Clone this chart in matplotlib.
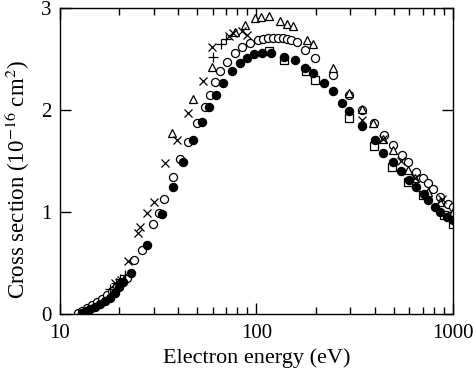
import matplotlib.pyplot as plt
import numpy as np

plt.rcParams['font.family'] = ['Liberation Serif', 'DejaVu Serif']
plt.rcParams['mathtext.fontset'] = 'stix'

# filled circles
e_fill = [12.9, 13.5, 14.2, 15.1, 16.0, 17.0, 17.9, 19.0, 20.0, 21.0, 22.9, 27.7, 33, 37.8,
          42.4, 47.3, 52.6, 57.5, 62.2, 67.7, 74.8, 82.4, 89, 97, 107, 118, 138, 157, 177,
          195, 220, 245, 271, 297, 344, 399, 443, 497, 543, 599, 647, 712, 749, 810, 859,
          929, 995]
s_fill = [0.01, 0.03, 0.05, 0.07, 0.10, 0.13, 0.16, 0.21, 0.26, 0.31, 0.40, 0.68, 0.98, 1.25,
          1.49, 1.71, 1.88, 2.03, 2.15, 2.26, 2.38, 2.46, 2.51, 2.55, 2.56, 2.56, 2.52, 2.49,
          2.41, 2.36, 2.26, 2.19, 2.07, 1.99, 1.84, 1.71, 1.58, 1.49, 1.40, 1.31, 1.25, 1.18,
          1.12, 1.05, 1.00, 0.95, 0.92]

# open circles
e_open = [12.3, 13.0, 13.8, 14.6, 15.5, 16.4, 17.4, 18.4, 19.5, 20.6, 21.8, 23.8, 26.1, 29.9,
          31.8, 33.9, 37.8, 41, 45, 50, 54.7, 58, 61.5, 65.2, 70.5, 77.7, 84, 92.8, 102, 108,
          115, 122, 129, 136, 143, 150, 160, 177, 199, 245, 297, 343, 396, 446, 497, 548, 593,
          646, 706, 749, 794, 859, 946, 995]
s_open = [0.01, 0.03, 0.06, 0.09, 0.12, 0.15, 0.19, 0.23, 0.27, 0.31, 0.35, 0.53, 0.63, 0.88,
          0.99, 1.13, 1.34, 1.52, 1.69, 1.87, 2.03, 2.15, 2.27, 2.38, 2.47, 2.56, 2.62, 2.66,
          2.69, 2.70, 2.71, 2.71, 2.71, 2.71, 2.70, 2.69, 2.67, 2.59, 2.51, 2.34, 2.15, 2.00,
          1.87, 1.75, 1.66, 1.56, 1.49, 1.39, 1.33, 1.28, 1.23, 1.15, 1.08, 1.05]

# triangles
e_tri = [37, 47.7, 59.2, 77.7, 87.3, 98, 106, 116, 132, 143, 154, 180, 195, 245, 297, 343,
         393, 442, 497, 593, 641, 750, 860, 1000]
s_tri = [1.77, 2.11, 2.42, 2.76, 2.83, 2.90, 2.91, 2.92, 2.87, 2.84, 2.82, 2.69, 2.65, 2.41,
         2.17, 2.01, 1.87, 1.72, 1.61, 1.41, 1.33, 1.20, 1.10, 1.00]

# crosses
e_x = [19.0, 20.5, 22.3, 25, 25.5, 27.8, 30.1, 34.2, 39.5, 45, 53.7, 59.2, 72.8, 76.3, 84,
       89, 345, 442, 545, 640, 875]
s_x = [0.30, 0.33, 0.52, 0.79, 0.85, 0.99, 1.10, 1.48, 1.71, 1.97, 2.28, 2.62, 2.73, 2.75,
       2.77, 2.74, 1.90, 1.72, 1.50, 1.33, 1.13]

# pluses
e_plus = [18.0, 19.2, 20.3, 21.4, 60, 66, 70]
s_plus = [0.25, 0.30, 0.34, 0.38, 2.52, 2.65, 2.70]

# squares
e_sq = [116, 138, 179, 199, 297, 396, 487, 593, 706, 899, 995]
s_sq = [2.58, 2.49, 2.38, 2.29, 1.92, 1.65, 1.44, 1.29, 1.17, 0.97, 0.88]

fig = plt.figure(figsize=(4.74, 3.68), dpi=100)
ax = fig.add_axes([0.1266, 0.1467, 0.829, 0.8316])

ax.plot(e_open, s_open, 'o', ms=5.8, mfc='white', mec='black', mew=0.9, ls='none')
ax.plot(e_tri, s_tri, '^', ms=5.8, mfc='white', mec='black', mew=0.9, ls='none')
ax.plot(e_sq, s_sq, 's', ms=5.8, mfc='white', mec='black', mew=0.9, ls='none')
ax.plot(e_x, s_x, 'x', ms=6, mec='black', mew=0.9, ls='none')
ax.plot(e_plus, s_plus, '+', ms=7, mec='black', mew=0.9, ls='none')
ax.plot(e_fill, s_fill, 'o', ms=5.8, mfc='black', mec='black', ls='none')

ax.set_xscale('log')
ax.set_xlim(10, 1000)
ax.set_ylim(0, 3)
ax.set_yticks([0, 1, 2, 3])
ax.set_xticks([10, 100, 1000])
ax.set_xticklabels(['10', '100', '1000'])
ax.tick_params(which='major', direction='in', length=8, width=1, top=True, right=True,
               labelsize=15)
ax.tick_params(axis='x', which='major', pad=7)
ax.tick_params(axis='y', which='major', pad=6)
ax.tick_params(which='minor', direction='in', length=5, width=1, top=True, right=True)
ax.tick_params(axis='y', which='minor', left=False, right=False)
for s in ax.spines.values():
    s.set_linewidth(1)

ax.set_xlabel('Electron energy (eV)', fontsize=16, labelpad=4)
ax.set_ylabel('Cross section (10$^{-16}$ cm$^{2}$)', fontsize=16.5)
ax.yaxis.set_label_coords(-0.072, 0.438)

fig.savefig('out.png', dpi=100)
